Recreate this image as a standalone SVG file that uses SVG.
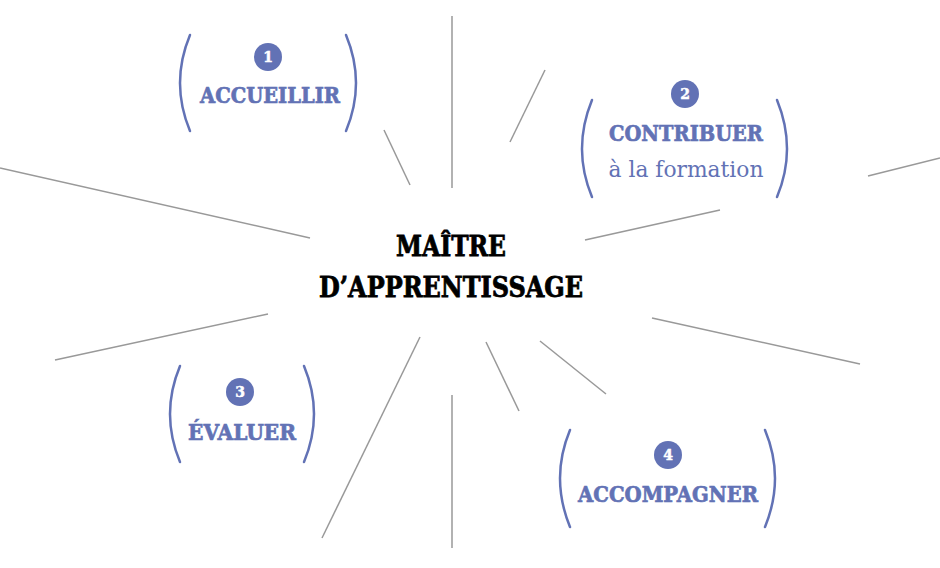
<svg xmlns="http://www.w3.org/2000/svg" width="940" height="568" viewBox="0 0 940 568">
<style>
.ray{stroke:#999;stroke-width:1.5;fill:none}
.par{stroke:#6272b5;stroke-width:2.5;fill:none;stroke-linecap:round}
.num{fill:#6272b5}
.numt{fill:#fff;stroke:#fff;stroke-width:0.5;font-family:"DejaVu Serif",serif;font-weight:bold;font-size:14px;text-anchor:middle}
.lbl{fill:#6272b5;stroke:#6272b5;stroke-width:0.7;font-family:"DejaVu Serif",serif;font-weight:bold;font-size:22px;text-anchor:middle}
.sub{fill:#6272b5;font-family:"DejaVu Serif",serif;font-size:22px;text-anchor:middle}
.ctr{fill:#000;stroke:#000;stroke-width:0.8;font-family:"DejaVu Serif",serif;font-weight:bold;font-size:27px;text-anchor:middle}
</style>
<rect width="940" height="568" fill="#fff"/>
<g id="connectors">
<line class="ray" x1="452" y1="16" x2="452" y2="188"/>
<line class="ray" x1="384" y1="130" x2="410" y2="185"/>
<line class="ray" x1="545" y1="70" x2="510" y2="142"/>
<line class="ray" x1="0" y1="168" x2="310" y2="238"/>
<line class="ray" x1="868" y1="176" x2="940" y2="158"/>
<line class="ray" x1="585" y1="240" x2="720" y2="210"/>
<line class="ray" x1="55" y1="360" x2="268" y2="314"/>
<line class="ray" x1="652" y1="318" x2="860" y2="364"/>
<line class="ray" x1="420" y1="337" x2="322" y2="538"/>
<line class="ray" x1="452" y1="395" x2="452" y2="548"/>
<line class="ray" x1="486" y1="342" x2="519" y2="411"/>
<line class="ray" x1="540" y1="341" x2="606" y2="394"/>
</g>
<g id="center">
<text class="ctr" x="451" y="256" textLength="110" lengthAdjust="spacingAndGlyphs">MAÎTRE</text>
<text class="ctr" x="451" y="297" textLength="264" lengthAdjust="spacingAndGlyphs">D’APPRENTISSAGE</text>
</g>
<g id="node1">
<path class="par" d="M190,35 Q170,83 190,131"/>
<path class="par" d="M346,35 Q366,83 346,131"/>
<circle class="num" cx="268" cy="57" r="14"/>
<text class="numt" x="268" y="62">1</text>
<text class="lbl" x="270" y="103" textLength="140" lengthAdjust="spacingAndGlyphs">ACCUEILLIR</text>
</g>
<g id="node2">
<path class="par" d="M592,100 Q572,149 592,197"/>
<path class="par" d="M777,100 Q797,149 777,197"/>
<circle class="num" cx="685" cy="94" r="14"/>
<text class="numt" x="685" y="99">2</text>
<text class="lbl" x="686" y="141" textLength="154" lengthAdjust="spacingAndGlyphs">CONTRIBUER</text>
<text class="sub" x="686" y="177" textLength="155" lengthAdjust="spacingAndGlyphs">à la formation</text>
</g>
<g id="node3">
<path class="par" d="M180,366 Q160,414 180,462"/>
<path class="par" d="M304,366 Q324,414 304,462"/>
<circle class="num" cx="240" cy="392" r="14"/>
<text class="numt" x="240" y="397">3</text>
<text class="lbl" x="242" y="440" textLength="108" lengthAdjust="spacingAndGlyphs">ÉVALUER</text>
</g>
<g id="node4">
<path class="par" d="M570,430 Q550,478 570,527"/>
<path class="par" d="M765,430 Q785,478 765,527"/>
<circle class="num" cx="668" cy="455" r="14"/>
<text class="numt" x="668" y="460">4</text>
<text class="lbl" x="668" y="502" textLength="180" lengthAdjust="spacingAndGlyphs">ACCOMPAGNER</text>
</g>
</svg>
